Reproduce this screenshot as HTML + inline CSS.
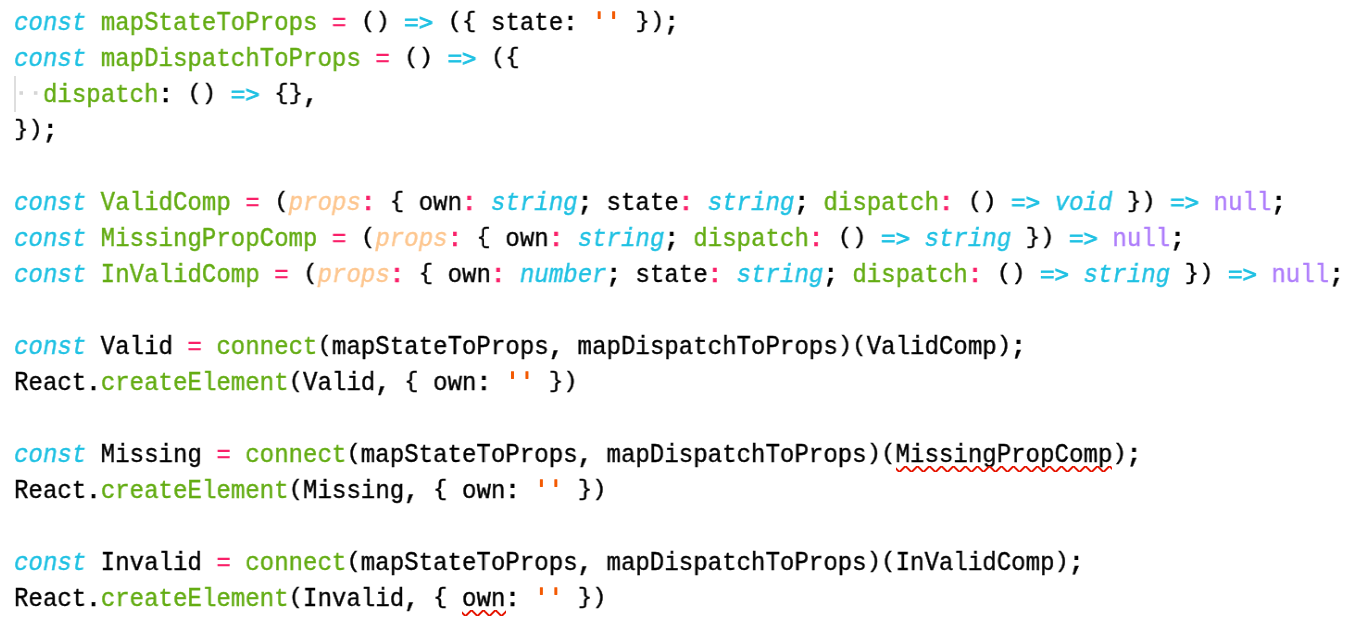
<!DOCTYPE html>
<html lang="en"><head><meta charset="utf-8"><title>code</title><style>
html,body{margin:0;padding:0;background:#fff;}
body{width:1356px;height:618px;overflow:hidden;position:relative;}
.c{position:absolute;left:14px;top:5px;width:1500px;font-family:"Liberation Mono",monospace;font-size:26px;letter-spacing:0;color:#000;font-kerning:none;font-variant-ligatures:none;transform:scale(0.92607,1.0);transform-origin:0 0;will-change:transform;-webkit-text-stroke:0.4px currentColor;}
.l{height:36.000px;line-height:36.000px;white-space:pre;}
.k{color:#1fc1e3;font-style:italic;}
.a{color:#1fc1e3;-webkit-text-stroke:1.15px currentColor;display:inline-block;transform:translateY(1.0px) scaleY(0.82);}
.f{color:#63ac13;}
.o{color:#f92069;}
.s{color:transparent;-webkit-text-stroke:0;}
em{font-style:inherit;display:inline-block;transform-origin:0 25px;transform:scaleY(1.06);}
.ov{position:absolute;left:0;top:0;}
.p{color:#fdc68f;font-style:italic;}
.n{color:#ae7dfb;}
u{text-decoration:none;display:inline-block;transform:translateY(-2.6px) scaleY(0.88);}
.g{position:absolute;left:14px;top:76px;width:2px;height:36px;background:#dedede;}
.q{position:absolute;height:6px;overflow:hidden;}
</style></head><body>
<div class="g"></div><svg width="40" height="10" viewBox="0 0 40 10" style="position:absolute;left:14px;top:88.1px"><g fill="#d6d6d6"><rect x="5.42" y="3.2" width="3.6" height="3.6"/><rect x="19.87" y="3.2" width="3.6" height="3.6"/></g></svg>
<div class="c">
<div class="l"><span class="k">const</span> <span class="f">map<em>S</em>tate<em>T</em>o<em>P</em>rops</span> <span class="o">=</span> <u>()</u> <span class="a">=&gt;</span> <u>({</u> state<b>:</b> <span class="s">''</span> <u>})</u><b>;</b></div>
<div class="l"><span class="k">const</span> <span class="f">map<em>D</em>ispatch<em>T</em>o<em>P</em>rops</span> <span class="o">=</span> <u>()</u> <span class="a">=&gt;</span> <u>({</u></div>
<div class="l">  <span class="f">dispatch</span><b>:</b> <u>()</u> <span class="a">=&gt;</span> <u>{}</u><b>,</b></div>
<div class="l"><u>})</u><b>;</b></div>
<div class="l"></div>
<div class="l"><span class="k">const</span> <span class="f"><em>V</em>alid<em>C</em>omp</span> <span class="o">=</span> <u>(</u><span class="p">props</span><span class="o"><b>:</b></span> <u>{</u> own<span class="o"><b>:</b></span> <span class="k">string</span><b>;</b> state<span class="o"><b>:</b></span> <span class="k">string</span><b>;</b> <span class="f">dispatch</span><span class="o"><b>:</b></span> <u>()</u> <span class="a">=&gt;</span> <span class="k">void</span> <u>})</u> <span class="a">=&gt;</span> <span class="n">null</span><b>;</b></div>
<div class="l"><span class="k">const</span> <span class="f"><em>M</em>issing<em>P</em>rop<em>C</em>omp</span> <span class="o">=</span> <u>(</u><span class="p">props</span><span class="o"><b>:</b></span> <u>{</u> own<span class="o"><b>:</b></span> <span class="k">string</span><b>;</b> <span class="f">dispatch</span><span class="o"><b>:</b></span> <u>()</u> <span class="a">=&gt;</span> <span class="k">string</span> <u>})</u> <span class="a">=&gt;</span> <span class="n">null</span><b>;</b></div>
<div class="l"><span class="k">const</span> <span class="f"><em>I</em>n<em>V</em>alid<em>C</em>omp</span> <span class="o">=</span> <u>(</u><span class="p">props</span><span class="o"><b>:</b></span> <u>{</u> own<span class="o"><b>:</b></span> <span class="k">number</span><b>;</b> state<span class="o"><b>:</b></span> <span class="k">string</span><b>;</b> <span class="f">dispatch</span><span class="o"><b>:</b></span> <u>()</u> <span class="a">=&gt;</span> <span class="k">string</span> <u>})</u> <span class="a">=&gt;</span> <span class="n">null</span><b>;</b></div>
<div class="l"></div>
<div class="l"><span class="k">const</span> <em>V</em>alid <span class="o">=</span> <span class="f">connect</span><u>(</u>map<em>S</em>tate<em>T</em>o<em>P</em>rops<b>,</b> map<em>D</em>ispatch<em>T</em>o<em>P</em>rops<u>)(</u><em>V</em>alid<em>C</em>omp<u>)</u><b>;</b></div>
<div class="l"><em>R</em>eact<b>.</b><span class="f">create<em>E</em>lement</span><u>(</u><em>V</em>alid<b>,</b> <u>{</u> own<b>:</b> <span class="s">''</span> <u>})</u></div>
<div class="l"></div>
<div class="l"><span class="k">const</span> <em>M</em>issing <span class="o">=</span> <span class="f">connect</span><u>(</u>map<em>S</em>tate<em>T</em>o<em>P</em>rops<b>,</b> map<em>D</em>ispatch<em>T</em>o<em>P</em>rops<u>)(</u><em>M</em>issing<em>P</em>rop<em>C</em>omp<u>)</u><b>;</b></div>
<div class="l"><em>R</em>eact<b>.</b><span class="f">create<em>E</em>lement</span><u>(</u><em>M</em>issing<b>,</b> <u>{</u> own<b>:</b> <span class="s">''</span> <u>})</u></div>
<div class="l"></div>
<div class="l"><span class="k">const</span> <em>I</em>nvalid <span class="o">=</span> <span class="f">connect</span><u>(</u>map<em>S</em>tate<em>T</em>o<em>P</em>rops<b>,</b> map<em>D</em>ispatch<em>T</em>o<em>P</em>rops<u>)(</u><em>I</em>n<em>V</em>alid<em>C</em>omp<u>)</u><b>;</b></div>
<div class="l"><em>R</em>eact<b>.</b><span class="f">create<em>E</em>lement</span><u>(</u><em>I</em>nvalid<b>,</b> <u>{</u> own<b>:</b> <span class="s">''</span> <u>})</u></div>
</div>
<svg class="ov" width="1356" height="618" viewBox="0 0 1356 618"><g fill="#f35a03"><rect x="597.68" y="11.15" width="3.0" height="7.8" rx="0.4"/><rect x="612.13" y="11.15" width="3.0" height="7.8" rx="0.4"/><rect x="510.99" y="371.15" width="3.0" height="7.8" rx="0.4"/><rect x="525.44" y="371.15" width="3.0" height="7.8" rx="0.4"/><rect x="539.89" y="479.15" width="3.0" height="7.8" rx="0.4"/><rect x="554.34" y="479.15" width="3.0" height="7.8" rx="0.4"/><rect x="539.89" y="587.15" width="3.0" height="7.8" rx="0.4"/><rect x="554.34" y="587.15" width="3.0" height="7.8" rx="0.4"/></g></svg>
<div class="q" style="left:896.00px;top:466px;width:216.00px"><svg width="240" height="6" viewBox="0 0 240 6" style="display:block"><g fill="#e51400"><polygon points="11,0 5,6 2.2,6 8.2,0"/><polygon points="8,0 12,4 12,1.2 10.8,0"/><polygon points="0,4 2,6 4.8,6 0,1.2"/><polygon points="23,0 17,6 14.2,6 20.2,0"/><polygon points="20,0 24,4 24,1.2 22.8,0"/><polygon points="12,4 14,6 16.8,6 12,1.2"/><polygon points="35,0 29,6 26.2,6 32.2,0"/><polygon points="32,0 36,4 36,1.2 34.8,0"/><polygon points="24,4 26,6 28.8,6 24,1.2"/><polygon points="47,0 41,6 38.2,6 44.2,0"/><polygon points="44,0 48,4 48,1.2 46.8,0"/><polygon points="36,4 38,6 40.8,6 36,1.2"/><polygon points="59,0 53,6 50.2,6 56.2,0"/><polygon points="56,0 60,4 60,1.2 58.8,0"/><polygon points="48,4 50,6 52.8,6 48,1.2"/><polygon points="71,0 65,6 62.2,6 68.2,0"/><polygon points="68,0 72,4 72,1.2 70.8,0"/><polygon points="60,4 62,6 64.8,6 60,1.2"/><polygon points="83,0 77,6 74.2,6 80.2,0"/><polygon points="80,0 84,4 84,1.2 82.8,0"/><polygon points="72,4 74,6 76.8,6 72,1.2"/><polygon points="95,0 89,6 86.2,6 92.2,0"/><polygon points="92,0 96,4 96,1.2 94.8,0"/><polygon points="84,4 86,6 88.8,6 84,1.2"/><polygon points="107,0 101,6 98.2,6 104.2,0"/><polygon points="104,0 108,4 108,1.2 106.8,0"/><polygon points="96,4 98,6 100.8,6 96,1.2"/><polygon points="119,0 113,6 110.2,6 116.2,0"/><polygon points="116,0 120,4 120,1.2 118.8,0"/><polygon points="108,4 110,6 112.8,6 108,1.2"/><polygon points="131,0 125,6 122.2,6 128.2,0"/><polygon points="128,0 132,4 132,1.2 130.8,0"/><polygon points="120,4 122,6 124.8,6 120,1.2"/><polygon points="143,0 137,6 134.2,6 140.2,0"/><polygon points="140,0 144,4 144,1.2 142.8,0"/><polygon points="132,4 134,6 136.8,6 132,1.2"/><polygon points="155,0 149,6 146.2,6 152.2,0"/><polygon points="152,0 156,4 156,1.2 154.8,0"/><polygon points="144,4 146,6 148.8,6 144,1.2"/><polygon points="167,0 161,6 158.2,6 164.2,0"/><polygon points="164,0 168,4 168,1.2 166.8,0"/><polygon points="156,4 158,6 160.8,6 156,1.2"/><polygon points="179,0 173,6 170.2,6 176.2,0"/><polygon points="176,0 180,4 180,1.2 178.8,0"/><polygon points="168,4 170,6 172.8,6 168,1.2"/><polygon points="191,0 185,6 182.2,6 188.2,0"/><polygon points="188,0 192,4 192,1.2 190.8,0"/><polygon points="180,4 182,6 184.8,6 180,1.2"/><polygon points="203,0 197,6 194.2,6 200.2,0"/><polygon points="200,0 204,4 204,1.2 202.8,0"/><polygon points="192,4 194,6 196.8,6 192,1.2"/><polygon points="215,0 209,6 206.2,6 212.2,0"/><polygon points="212,0 216,4 216,1.2 214.8,0"/><polygon points="204,4 206,6 208.8,6 204,1.2"/><polygon points="227,0 221,6 218.2,6 224.2,0"/><polygon points="224,0 228,4 228,1.2 226.8,0"/><polygon points="216,4 218,6 220.8,6 216,1.2"/><polygon points="239,0 233,6 230.2,6 236.2,0"/><polygon points="236,0 240,4 240,1.2 238.8,0"/><polygon points="228,4 230,6 232.8,6 228,1.2"/></g></svg></div>
<div class="q" style="left:462.00px;top:610px;width:44.00px"><svg width="60" height="6" viewBox="0 0 60 6" style="display:block"><g fill="#e51400"><polygon points="11,0 5,6 2.2,6 8.2,0"/><polygon points="8,0 12,4 12,1.2 10.8,0"/><polygon points="0,4 2,6 4.8,6 0,1.2"/><polygon points="23,0 17,6 14.2,6 20.2,0"/><polygon points="20,0 24,4 24,1.2 22.8,0"/><polygon points="12,4 14,6 16.8,6 12,1.2"/><polygon points="35,0 29,6 26.2,6 32.2,0"/><polygon points="32,0 36,4 36,1.2 34.8,0"/><polygon points="24,4 26,6 28.8,6 24,1.2"/><polygon points="47,0 41,6 38.2,6 44.2,0"/><polygon points="44,0 48,4 48,1.2 46.8,0"/><polygon points="36,4 38,6 40.8,6 36,1.2"/><polygon points="59,0 53,6 50.2,6 56.2,0"/><polygon points="56,0 60,4 60,1.2 58.8,0"/><polygon points="48,4 50,6 52.8,6 48,1.2"/></g></svg></div>
</body></html>
